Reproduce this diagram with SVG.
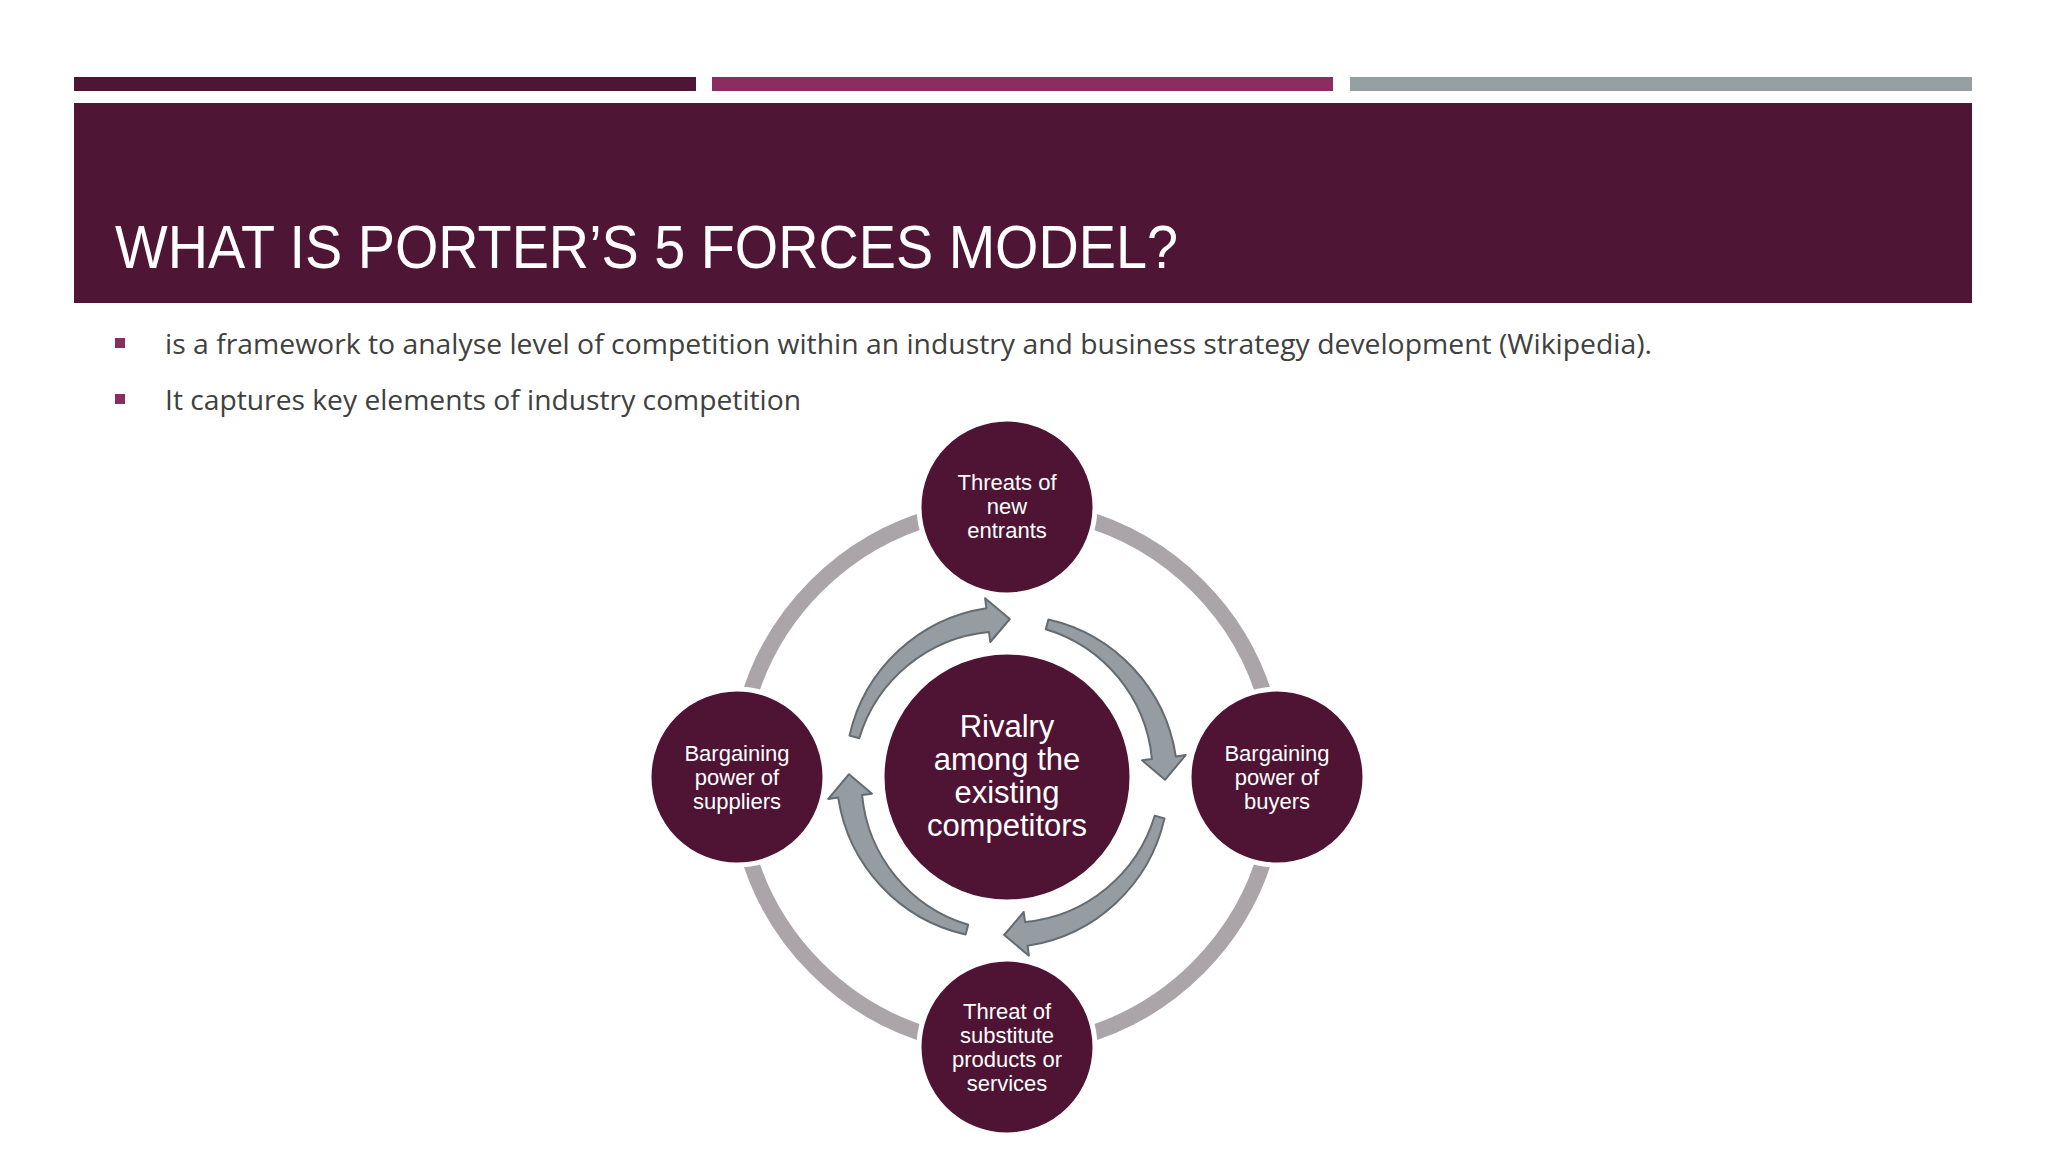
<svg xmlns="http://www.w3.org/2000/svg" width="2048" height="1152" viewBox="0 0 2048 1152">
<style>
.bar1{fill:#4f1535}.bar2{fill:#8b2d5e}.bar3{fill:#96a0a4}
.title{font-family:"Liberation Sans",Arial,sans-serif;font-size:62px;fill:#ffffff}
.body{font-family:"Open Sans","Liberation Sans",sans-serif;font-size:28px;fill:#404040}
.bullet{fill:#8b2d5e}
.node{fill:#4f1434;stroke:#ffffff;stroke-width:5}
.lbl{font-family:"Liberation Sans",Arial,sans-serif;font-size:22px;fill:#ffffff;text-anchor:middle}
.clbl{font-family:"Liberation Sans",Arial,sans-serif;font-size:31px;fill:#ffffff;text-anchor:middle}
.ring{fill:none;stroke:#aba5aa;stroke-width:16}
.arrow{fill:#959da2;stroke:#646c71;stroke-width:2;stroke-linejoin:round}
</style>
<defs>
<path id="arr" d="M 849.5 735.6 A 166 166 0 0 1 986.4 608.2 L 985.1 598.3 L 1009.8 619.0 L 990.3 642.0 L 989.0 632.1 A 150 150 0 0 0 859.3 738.2 Z"/>
</defs>
<rect width="2048" height="1152" fill="#ffffff"/>
<g id="header">
<rect class="bar1" x="74" y="77" width="622" height="14"/>
<rect class="bar2" x="712" y="77" width="621" height="14"/>
<rect class="bar3" x="1350" y="77" width="622" height="14"/>
<rect class="bar1" x="74" y="103" width="1898" height="200"/>
<text class="title" x="115" y="268" textLength="1063" lengthAdjust="spacingAndGlyphs">WHAT IS PORTER’S 5 FORCES MODEL?</text>
</g>
<g id="bullets">
<rect class="bullet" x="115" y="338" width="10" height="10"/>
<text class="body" x="165" y="354" textLength="1487" lengthAdjust="spacingAndGlyphs">is a framework to analyse level of competition within an industry and business strategy development (Wikipedia).</text>
<rect class="bullet" x="115" y="394" width="10" height="10"/>
<text class="body" x="165" y="410" textLength="636" lengthAdjust="spacingAndGlyphs">It captures key elements of industry competition</text>
</g>
<g id="connectors">
<path class="ring" d="M 1076.9 516.2 A 270 270 0 0 1 1267.8 707.1"/>
<path class="ring" d="M 1267.8 846.9 A 270 270 0 0 1 1076.9 1037.8"/>
<path class="ring" d="M 937.1 1037.8 A 270 270 0 0 1 746.2 846.9"/>
<path class="ring" d="M 746.2 707.1 A 270 270 0 0 1 937.1 516.2"/>
<use href="#arr" class="arrow"/>
<use href="#arr" class="arrow" transform="rotate(90 1007 777)"/>
<use href="#arr" class="arrow" transform="rotate(180 1007 777)"/>
<use href="#arr" class="arrow" transform="rotate(270 1007 777)"/>
</g>
<g id="node-center">
<circle class="node" cx="1007" cy="777" r="125"/>
<text class="clbl"><tspan x="1007" y="737">Rivalry</tspan><tspan x="1007" y="770">among the</tspan><tspan x="1007" y="803">existing</tspan><tspan x="1007" y="836">competitors</tspan></text>
</g>
<g id="node-top">
<circle class="node" cx="1007" cy="507" r="88"/>
<text class="lbl"><tspan x="1007" y="490">Threats of</tspan><tspan x="1007" y="514">new</tspan><tspan x="1007" y="538">entrants</tspan></text>
</g>
<g id="node-left">
<circle class="node" cx="737" cy="777" r="88"/>
<text class="lbl"><tspan x="737" y="761">Bargaining</tspan><tspan x="737" y="785">power of</tspan><tspan x="737" y="809">suppliers</tspan></text>
</g>
<g id="node-right">
<circle class="node" cx="1277" cy="777" r="88"/>
<text class="lbl"><tspan x="1277" y="761">Bargaining</tspan><tspan x="1277" y="785">power of</tspan><tspan x="1277" y="809">buyers</tspan></text>
</g>
<g id="node-bottom">
<circle class="node" cx="1007" cy="1047" r="88"/>
<text class="lbl"><tspan x="1007" y="1019">Threat of</tspan><tspan x="1007" y="1043">substitute</tspan><tspan x="1007" y="1067">products or</tspan><tspan x="1007" y="1091">services</tspan></text>
</g>
</svg>
